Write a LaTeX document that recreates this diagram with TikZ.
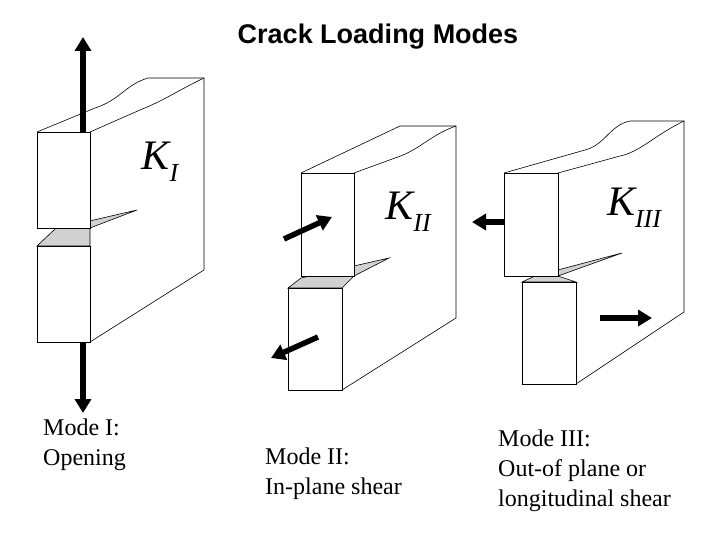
\documentclass[tikz,border=0pt]{standalone}
\usepackage{fontspec}
\setmainfont{Liberation Serif}
\newfontfamily\arialfont{Liberation Sans}
\usetikzlibrary{positioning,arrows.meta}
\tikzset{>={Triangle[width=16pt,length=14pt]}}
\begin{document}
\begin{tikzpicture}[x=1pt,y=-1pt,
    edge/.style={line width=0.6pt, black},
    face/.style={edge, fill=white},
    crack/.style={edge, fill=black!18},
    load/.style={line width=5.5pt, ->},
    kname/.style={font=\fontsize{42}{42}\selectfont\itshape, inner sep=0pt},
    mode/.style={font=\fontsize{24}{30}\selectfont, align=left, anchor=north west, inner sep=0pt}]
	\useasboundingbox (0,0) rectangle (720,540);
	\node[font=\arialfont\bfseries\fontsize{27}{27}\selectfont] (title) at (378,37) {Crack Loading Modes};
	% mode I
	\draw[edge] (37,132) -- (95,108) .. controls (120,100) and (125,85) .. (148,78) -- (204,78)
		-- (204,270) -- (90,342);
	\draw[edge] (90,132) -- (140,110) .. controls (165,100) and (175,92) .. (204,78);
	\draw[crack] (37,246) -- (55,229) -- (137,210) -- (90,228) -- (90,246) -- cycle;
	\draw[face] (37,132) rectangle (90,228);
	\draw[face] (37,246) rectangle (90,342);
	\node[kname] (k1) at (160,162) {K\raisebox{-12pt}{\fontsize{26}{26}\selectfont I}};
	\draw[load] (83,132) -- (83,37);
	\draw[load] (83,342) -- (83,413);
	\node[mode] (m1) at (43,419) {Mode I:\\Opening};
	% mode II
	\draw[edge] (301,173) -- (400,126) -- (456,126) -- (456,318) -- (342,390);
	\draw[edge] (354,173) -- (395,158) .. controls (420,150) and (430,135) .. (456,126);
	\draw[crack] (288,288) -- (301,278) -- (389,258) -- (354,276) -- (342,288) -- cycle;
	\draw[face] (301,173) rectangle (354,276);
	\draw[face] (288,288) rectangle (342,390);
	\node[kname] (k2) at (408,212) {K\raisebox{-12pt}{\fontsize{26}{26}\selectfont II}};
	\draw[load] (284,239) -- (332,217);
	\draw[load] (318,337) -- (271,358);
	\node[mode] (m2) at (265,448) {Mode II:\\In-plane shear};
	% mode III
	\draw[edge] (504,173) -- (585,150) .. controls (605,145) and (610,125) .. (630,121) -- (684,121)
		-- (684,312) -- (576,384);
	\draw[edge] (558,173) -- (620,156) .. controls (640,152) and (655,135) .. (684,121);
	\draw[crack] (522,282) -- (535,276) -- (622,253) -- (558,276) -- (576,282) -- cycle;
	\draw[face] (504,173) rectangle (558,276);
	\draw[face] (522,282) rectangle (576,384);
	\node[kname] (k3) at (634,208) {K\raisebox{-12pt}{\fontsize{26}{26}\selectfont III}};
	\draw[load] (504,222) -- (472,222);
	\draw[load] (600,318) -- (652,318);
	\node[mode] (m3) at (498,430) {Mode III:\\Out-of plane or\\longitudinal shear};
\end{tikzpicture}
\end{document}
